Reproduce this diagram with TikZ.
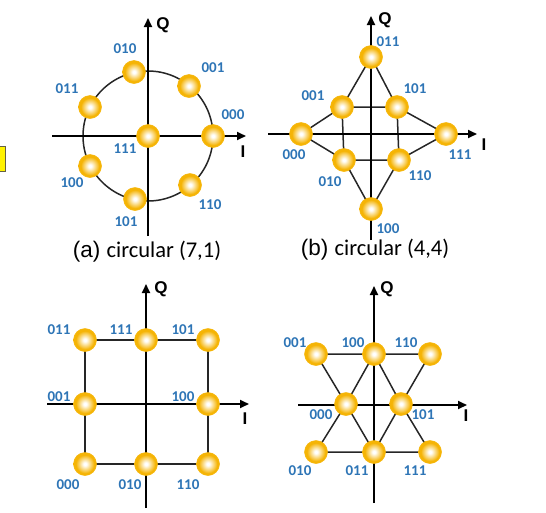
\documentclass[tikz,border=0pt]{standalone}
\usepackage{fontspec}
\setmainfont{Liberation Sans}
\newfontfamily\calib{Carlito}
\usetikzlibrary{arrows.meta}
\definecolor{lblblue}{HTML}{2E75B6}
\definecolor{ballrim}{HTML}{F5B405}
\pgfdeclareradialshading{goldball}{\pgfpoint{0bp}{0bp}}{%
  color(0bp)=(white);
  color(3bp)=(white);
  color(15bp)=(ballrim!70!white);
  color(20bp)=(ballrim);
  color(25bp)=(ballrim);
  color(50bp)=(ballrim)}
\tikzset{
  ball/.style={circle,minimum size=23pt,inner sep=0pt,shading=goldball,draw=ballrim,line width=0.5pt},
  axis/.style={line width=1.8pt,-{Triangle[length=9pt,width=8pt]}},
  conn/.style={line width=1.5pt,draw=black!85},
  bits/.style={font=\calib\bfseries\fontsize{15}{15}\selectfont,text=lblblue,inner sep=0pt},
  axlbl/.style={font=\fontsize{17}{17}\selectfont\bfseries,inner sep=0pt},
  capt/.style={inner sep=0pt}
}
\begin{document}
\begin{tikzpicture}[x=1pt,y=-1pt]
\useasboundingbox (0,0) rectangle (546,512);
% artifact box
\draw[fill=yellow,draw=black!70!yellow,line width=0.8pt] (-4,146) rectangle (5,171);
%%%%%%%%%%%%%%%% (a)
\draw[conn] (148,136) circle (65);
\coordinate (aL) at (52,136); \coordinate (aR) at (246,136);
\coordinate (aB) at (148,236); \coordinate (aT) at (148,18);
\draw[axis] (aL) -- (aR);
\draw[axis] (aB) -- (aT);
\node[axlbl] (aQ) at (163,25) {Q};
\node[axlbl] (aI) at (243,152) {I};
\node[ball] (a010) at (134,72) {};
\node[ball] (a001) at (189,86) {};
\node[ball] (a000) at (213,136) {};
\node[ball] (a011) at (90,107) {};
\node[ball] (a111) at (148,136) {};
\node[ball] (a100) at (90,166) {};
\node[ball] (a101) at (135,199) {};
\node[ball] (a110) at (190,185) {};
\node[bits] (la010) at (125,49) {010};
\node[bits] (la001) at (213,68) {001};
\node[bits] (la011) at (67,89) {011};
\node[bits] (la000) at (233,115) {000};
\node[bits] (la111) at (125,149) {111};
\node[bits] (la100) at (72,183) {100};
\node[bits] (la110) at (210,205) {110};
\node[bits] (la101) at (126,222) {101};
\node[capt] (capa) at (147,252) {\fontsize{22.5}{22.5}\selectfont(a) {\calib circular (7,1)}};
%%%%%%%%%%%%%%%% (b)
\coordinate (b011) at (371,57);
\coordinate (b001) at (342,107);
\coordinate (b101) at (397,107);
\coordinate (b000) at (301,134);
\coordinate (b111) at (446,134);
\coordinate (b010) at (344,160);
\coordinate (b110) at (399,160);
\coordinate (b100) at (371,209);
\coordinate (bL) at (268,134); \coordinate (bR) at (477,134);
\coordinate (bB) at (371,240); \coordinate (bT) at (371,16);
\draw[conn] (b011) -- (b001) (b011) -- (b101) (b001) -- (b101)
  (b001) -- (b000) (b101) -- (b111) (b001) -- (b010) (b101) -- (b110)
  (b000) -- (b010) (b111) -- (b110) (b010) -- (b110) (b010) -- (b100) (b110) -- (b100);
\draw[axis] (bL) -- (bR);
\draw[axis] (bB) -- (bT);
\foreach \n in {b011,b001,b101,b000,b111,b010,b110,b100} \node[ball] (\n b) at (\n) {};
\node[axlbl] (bQ) at (385,20) {Q};
\node[axlbl] (bI) at (484,145) {I};
\node[bits] (lb011) at (388,42) {011};
\node[bits] (lb001) at (313,96) {001};
\node[bits] (lb101) at (415,89) {101};
\node[bits] (lb000) at (294,155) {000};
\node[bits] (lb111) at (460,155) {111};
\node[bits] (lb010) at (330,182) {010};
\node[bits] (lb110) at (420,176) {110};
\node[bits] (lb100) at (388,229) {100};
\node[capt] (capb) at (375,250) {\fontsize{22.5}{22.5}\selectfont(b) {\calib circular (4,4)}};
%%%%%%%%%%%%%%%% (c)
\coordinate (c011) at (85,340); \coordinate (c111) at (146,340); \coordinate (c101) at (208,340);
\coordinate (c001) at (85,404); \coordinate (c100) at (208,404);
\coordinate (c000) at (85,464); \coordinate (c010) at (146,464); \coordinate (c110) at (208,464);
\draw[conn] (c011) -- (c101) -- (c110) -- (c000) -- cycle;
\coordinate (cL) at (47,404); \coordinate (cR) at (249,404);
\coordinate (cB) at (146,508); \coordinate (cT) at (146,284);
\draw[axis] (cL) -- (cR);
\draw[axis] (cB) -- (cT);
\foreach \n in {c011,c111,c101,c001,c100,c000,c010,c110} \node[ball] (\n b) at (\n) {};
\node[axlbl] (cQ) at (161,289) {Q};
\node[axlbl] (cI) at (245,419) {I};
\node[bits] (lc011) at (59,330) {011};
\node[bits] (lc111) at (121,330) {111};
\node[bits] (lc101) at (183,330) {101};
\node[bits] (lc001) at (59,397) {001};
\node[bits] (lc100) at (183,397) {100};
\node[bits] (lc000) at (68,485) {000};
\node[bits] (lc010) at (130,485) {010};
\node[bits] (lc110) at (188,485) {110};
%%%%%%%%%%%%%%%% (d)
\coordinate (d001) at (316,354); \coordinate (d100) at (374,354); \coordinate (d110) at (430,354);
\coordinate (d000) at (346,404); \coordinate (d101) at (401,404);
\coordinate (d010) at (316,452); \coordinate (d011) at (374,452); \coordinate (d111) at (430,452);
\draw[conn] (d001) -- (d110) (d010) -- (d111)
  (d001) -- (d000) -- (d100) -- (d101) -- (d110)
  (d010) -- (d000) -- (d011) -- (d101) -- (d111);
\coordinate (dL) at (298,405); \coordinate (dR) at (467,405);
\coordinate (dB) at (374,503); \coordinate (dT) at (374,286);
\draw[axis] (dL) -- (dR);
\draw[axis] (dB) -- (dT);
\foreach \n in {d001,d100,d110,d000,d101,d010,d011,d111} \node[ball] (\n b) at (\n) {};
\node[axlbl] (dQ) at (387,289) {Q};
\node[axlbl] (dI) at (466,416) {I};
\node[bits] (ld001) at (295,343) {001};
\node[bits] (ld100) at (353,343) {100};
\node[bits] (ld110) at (406,343) {110};
\node[bits] (ld000) at (321,415) {000};
\node[bits] (ld101) at (423,415) {101};
\node[bits] (ld010) at (300,471) {010};
\node[bits] (ld011) at (357,471) {011};
\node[bits] (ld111) at (415,471) {111};
\end{tikzpicture}
\end{document}
